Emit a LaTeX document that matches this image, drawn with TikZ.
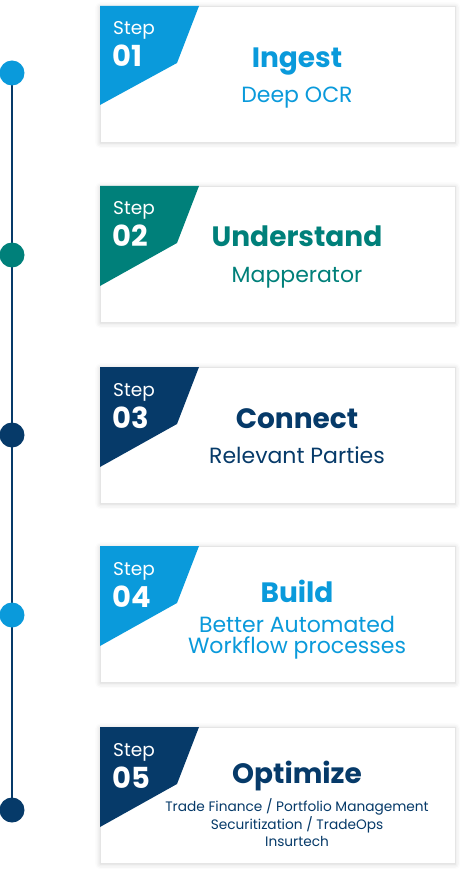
\documentclass[tikz,border=0pt]{standalone}
\usepackage{fontspec}
\setmainfont{Poppins}
\usetikzlibrary{shadows.blur}
\definecolor{stepblue}{HTML}{0A9ADB}
\definecolor{stepteal}{HTML}{00807A}
\definecolor{stepnavy}{HTML}{063A69}
\tikzset{
  card/.style={draw=black!10, fill=white, minimum width=355pt, minimum height=136pt, inner sep=0pt,
    anchor=north west, blur shadow={shadow xshift=0pt, shadow yshift=-1pt, shadow blur radius=5pt, shadow opacity=18}},
  dot/.style={circle, fill=#1, minimum size=25pt, inner sep=0pt},
  steplbl/.style={text=white, anchor=base west, inner sep=0pt, font=\fontsize{18.5}{18.5}\selectfont},
  stepnum/.style={text=white, anchor=base west, inner sep=0pt, font=\fontsize{29}{29}\selectfont\bfseries},
  title/.style={text=#1, anchor=base, inner sep=0pt, font=\fontsize{28}{28}\selectfont\bfseries},
  sub/.style={text=#1, anchor=base, inner sep=0pt, align=center, font=\fontsize{22}{21}\selectfont},
  small/.style={text=#1, anchor=base, inner sep=0pt, align=center, font=\fontsize{13.7}{16.5}\selectfont}
}
\begin{document}
\begin{tikzpicture}[x=1pt,y=-1pt]
	\useasboundingbox (0,0) rectangle (468,874);
	% timeline
	\coordinate (p1) at (12,73);
	\coordinate (p5) at (12,810);
	\draw[stepnavy, line width=2pt] (p1) -- (p5);
	\node[dot=stepblue] (dot1) at (12,73) {};
	\node[dot=stepteal] (dot2) at (12,255) {};
	\node[dot=stepnavy] (dot3) at (12,435) {};
	\node[dot=stepblue] (dot4) at (12,615) {};
	\node[dot=stepnavy] (dot5) at (12,810) {};
	% step 1
	\node[card] (card1) at (100,6) {};
	\fill[stepblue] (card1.north west) -- ++(99,0) -- ++(-22,57) -- ++(-77,42) -- cycle;
	\node[steplbl] (s1) at (113,35) {Step};
	\node[stepnum] (n1) at (112,67) {01};
	\node[title=stepblue] (t1) at (297,68) {Ingest};
	\node[sub=stepblue] (d1) at (297,103) {Deep OCR};
	% step 2
	\node[card] (card2) at (100,186) {};
	\fill[stepteal] (card2.north west) -- ++(99,0) -- ++(-22,57) -- ++(-77,43) -- cycle;
	\node[steplbl] (s2) at (113,215) {Step};
	\node[stepnum] (n2) at (112,247) {02};
	\node[title=stepteal] (t2) at (297,247) {Understand};
	\node[sub=stepteal] (d2) at (297,282) {Mapperator};
	% step 3
	\node[card] (card3) at (100,367) {};
	\fill[stepnavy] (card3.north west) -- ++(99,0) -- ++(-22,57) -- ++(-77,43) -- cycle;
	\node[steplbl] (s3) at (113,396) {Step};
	\node[stepnum] (n3) at (112,428) {03};
	\node[title=stepnavy] (t3) at (297,428) {Connect};
	\node[sub=stepnavy] (d3) at (297,463) {Relevant Parties};
	% step 4
	\node[card] (card4) at (100,546) {};
	\fill[stepblue] (card4.north west) -- ++(99,0) -- ++(-22,57) -- ++(-77,43) -- cycle;
	\node[steplbl] (s4) at (113,575) {Step};
	\node[stepnum] (n4) at (112,607) {04};
	\node[title=stepblue] (t4) at (297,602) {Build};
	\node[sub=stepblue] (d4) at (297,653) {Better Automated\\Workflow processes};
	% step 5
	\node[card] (card5) at (100,727) {};
	\fill[stepnavy] (card5.north west) -- ++(99,0) -- ++(-22,57) -- ++(-77,43) -- cycle;
	\node[steplbl] (s5) at (113,756) {Step};
	\node[stepnum] (n5) at (112,788) {05};
	\node[title=stepnavy] (t5) at (297,783) {Optimize};
	\node[small=stepnavy] (d5) at (297,846) {Trade Finance / Portfolio Management\\Securitization / TradeOps\\Insurtech};
\end{tikzpicture}
\end{document}
